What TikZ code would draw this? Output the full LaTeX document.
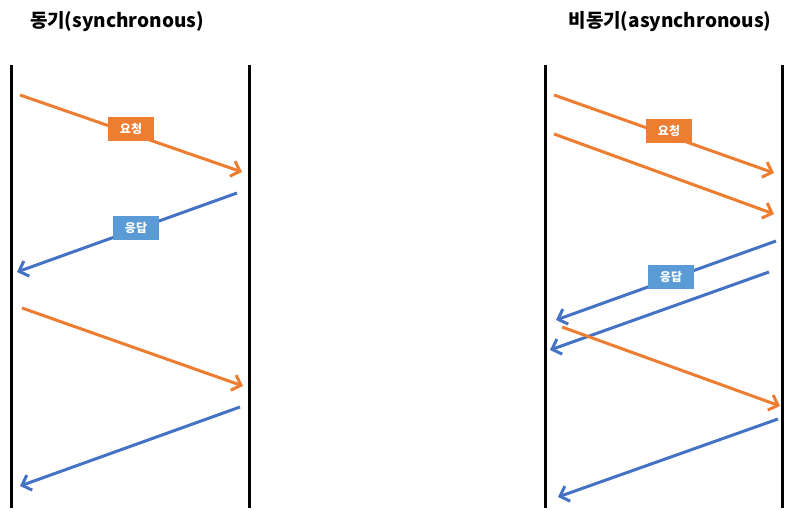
\documentclass[tikz,border=0pt]{standalone}
\usepackage{fontspec}
\setmainfont{Noto Sans CJK KR}
\usetikzlibrary{arrows.meta}
\definecolor{ora}{HTML}{ED7D31}
\definecolor{blu}{HTML}{4472C4}
\definecolor{lbl}{HTML}{5B9BD5}
\begin{document}
\begin{tikzpicture}[x=1pt,y=-1pt,
  life/.style={line width=3pt,black},
  req/.style={line width=3pt,ora,-{Straight Barb[length=8pt,width=16pt,line width=3pt]}},
  res/.style={line width=3pt,blu,-{Straight Barb[length=8pt,width=16pt,line width=3pt]}},
  tag/.style={fill=#1,text=white,font=\bfseries\fontsize{12}{12}\selectfont,minimum width=46pt,minimum height=24pt,inner sep=0pt},
  title/.style={font=\bfseries\fontsize{19}{19}\selectfont}]
\useasboundingbox (0,0) rectangle (800,514);
\node[title] (t1) at (117,22) {동기(synchronous)};
\node[title] (t2) at (670,22) {비동기(asynchronous)};
\foreach \n/\x in {a/11,b/249,c/545,d/782}{
  \coordinate (\n1) at (\x,65); \coordinate (\n2) at (\x,508);
  \draw[life] (\n1) -- (\n2);}
% left
\coordinate (p1) at (20,95); \coordinate (q1) at (242,172);
\coordinate (p2) at (237,193); \coordinate (q2) at (17,272);
\coordinate (p3) at (22,308); \coordinate (q3) at (243,386);
\coordinate (p4) at (240,407); \coordinate (q4) at (20,486);
\draw[req] (p1) -- (q1);
\draw[res] (p2) -- (q2);
\draw[req] (p3) -- (q3);
\draw[res] (p4) -- (q4);
\node[tag=ora] (l1) at (131,129) {요청};
\node[tag=lbl] (l2) at (136,228) {응답};
% right
\coordinate (r1) at (554,95); \coordinate (s1) at (774,173);
\coordinate (r2) at (554,134); \coordinate (s2) at (774,214);
\coordinate (r3) at (776,241); \coordinate (s3) at (556,320);
\coordinate (r4) at (769,272); \coordinate (s4) at (550,350);
\coordinate (r5) at (562,327); \coordinate (s5) at (780,406);
\coordinate (r6) at (778,419); \coordinate (s6) at (558,497);
\draw[req] (r1) -- (s1);
\draw[req] (r2) -- (s2);
\draw[res] (r3) -- (s3);
\draw[res] (r4) -- (s4);
\draw[req] (r5) -- (s5);
\draw[res] (r6) -- (s6);
\node[tag=ora] (l3) at (669,131) {요청};
\node[tag=lbl] (l4) at (671,277) {응답};
\end{tikzpicture}
\end{document}
